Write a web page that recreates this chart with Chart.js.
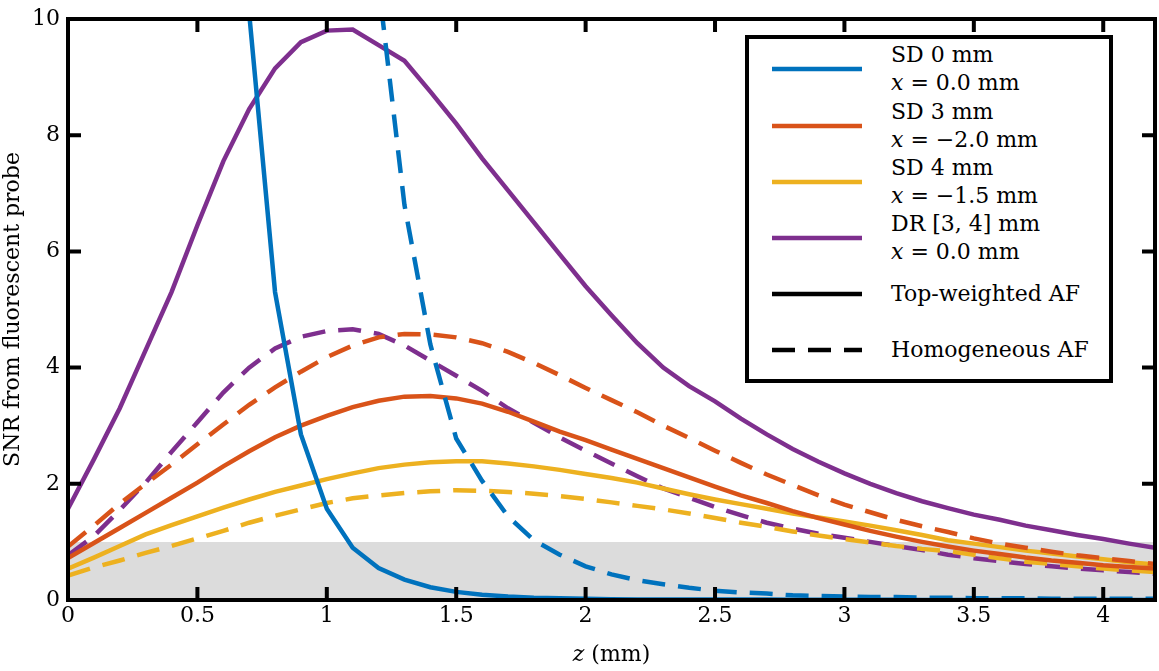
<!DOCTYPE html>
<html>
<head>
<meta charset="utf-8">
<script src="https://cdn.jsdelivr.net/npm/chart.js@4.4.1/dist/chart.umd.min.js"></script>
<style>
  body { margin: 0; background: #fff; }
  #wrap { position: relative; width: 1159px; height: 671px; }
  #legend-box { position: absolute; left: 745px; top: 35px; width: 368px; height: 348px;
    box-sizing: border-box; border: 4px solid #000; background: #fff; }
  .lg-line { position: absolute; left: 772px; }
  .lg-text { position: absolute; left: 891px; font-family: "DejaVu Serif"; font-size: 22px;
    line-height: 28px; color: #000; white-space: nowrap; }
</style>
</head>
<body>
<div id="wrap">
  <canvas id="chart" width="1159" height="671"></canvas>
  <div id="legend-box"></div>
</div>
<script>
// --- data ---
const zMm = [0, 0.1, 0.2, 0.3, 0.4, 0.5, 0.6, 0.7, 0.8, 0.9, 1.0, 1.1, 1.2, 1.3, 1.4, 1.5, 1.6, 1.7, 1.8, 1.9, 2.0,
  2.1, 2.2, 2.3, 2.4, 2.5, 2.6, 2.7, 2.8, 2.9, 3.0, 3.1, 3.2, 3.3, 3.4, 3.5, 3.6, 3.7, 3.8, 3.9, 4.0, 4.1, 4.2];

// SD 0 mm, x = 0.0 mm
const sd0Top = [null, null, null, null, null, null, 19, 10.1, 5.3, 2.85, 1.57, 0.9, 0.55, 0.35, 0.22, 0.14, 0.09, 0.06, 0.04, 0.03, 0.02,
  0.015, 0.01, 0.01, 0.01, 0.01, 0.01, 0.01, 0.005, 0.005, 0.005, 0.005, 0.005, 0, 0, 0, 0, 0, 0, 0, 0, 0, 0];
const sd0Hom = [null, null, null, null, null, null, null, null, null, null, null, 17, 10.6, 6.8, 4.4, 2.78, 2.05, 1.44, 1.03, 0.78, 0.58,
  0.44, 0.34, 0.27, 0.21, 0.16, 0.13, 0.11, 0.08, 0.07, 0.06, 0.05, 0.05, 0.04, 0.04, 0.03, 0.03, 0.03, 0.02, 0.02, 0.02, 0.02, 0.02];
// SD 3 mm, x = -2.0 mm
const sd3Top = [0.72, 0.98, 1.24, 1.5, 1.76, 2.02, 2.3, 2.56, 2.8, 3.0, 3.17, 3.32, 3.43, 3.5, 3.51, 3.47, 3.38, 3.24, 3.07, 2.9, 2.75,
  2.59, 2.43, 2.27, 2.11, 1.95, 1.8, 1.67, 1.53, 1.41, 1.3, 1.19, 1.09, 1.0, 0.92, 0.85, 0.79, 0.73, 0.68, 0.64, 0.6, 0.57, 0.54];
const sd3Hom = [0.92, 1.28, 1.66, 2.0, 2.33, 2.68, 3.02, 3.36, 3.66, 3.93, 4.18, 4.38, 4.52, 4.58, 4.57, 4.52, 4.42, 4.27, 4.08, 3.87, 3.65,
  3.44, 3.23, 3.0, 2.79, 2.57, 2.36, 2.16, 1.98, 1.8, 1.64, 1.51, 1.38, 1.27, 1.17, 1.06, 0.97, 0.9, 0.83, 0.77, 0.72, 0.67, 0.62];
// SD 4 mm, x = -1.5 mm
const sd4Top = [0.54, 0.73, 0.93, 1.13, 1.29, 1.44, 1.59, 1.73, 1.86, 1.97, 2.08, 2.18, 2.27, 2.33, 2.37, 2.39, 2.39, 2.35, 2.3, 2.24, 2.17,
  2.1, 2.02, 1.92, 1.82, 1.73, 1.65, 1.57, 1.49, 1.42, 1.35, 1.28, 1.2, 1.12, 1.03, 0.97, 0.91, 0.85, 0.8, 0.75, 0.7, 0.65, 0.61];
const sd4Hom = [0.42, 0.56, 0.68, 0.81, 0.93, 1.06, 1.19, 1.33, 1.45, 1.56, 1.67, 1.75, 1.8, 1.84, 1.87, 1.89, 1.88, 1.86, 1.83, 1.79, 1.74,
  1.68, 1.62, 1.56, 1.49, 1.41, 1.33, 1.26, 1.18, 1.11, 1.05, 0.99, 0.93, 0.88, 0.84, 0.78, 0.72, 0.66, 0.62, 0.58, 0.54, 0.51, 0.48];
// DR [3,4] mm, x = 0.0 mm
const drTop = [1.57, 2.42, 3.3, 4.3, 5.3, 6.45, 7.55, 8.45, 9.15, 9.6, 9.8, 9.82, 9.55, 9.28, 8.75, 8.2, 7.6, 7.05, 6.5, 5.95, 5.4,
  4.9, 4.42, 4.0, 3.68, 3.42, 3.12, 2.85, 2.6, 2.38, 2.18, 2.0, 1.84, 1.7, 1.58, 1.47, 1.38, 1.28, 1.2, 1.12, 1.05, 0.97, 0.9];
const drHom = [0.77, 1.1, 1.55, 2.02, 2.55, 3.06, 3.57, 4.0, 4.33, 4.53, 4.63, 4.66, 4.58, 4.38, 4.12, 3.86, 3.6, 3.3, 3.05, 2.8, 2.57,
  2.35, 2.13, 1.92, 1.76, 1.6, 1.46, 1.33, 1.23, 1.14, 1.07, 1.0, 0.93, 0.86, 0.78, 0.72, 0.67, 0.62, 0.58, 0.54, 0.51, 0.48, 0.45];

// shaded SNR < 1 band
const shadeZ = [0, 4.2];
const shadeLevel = [1, 1];

const xTicks = [0, 0.5, 1, 1.5, 2, 2.5, 3, 3.5, 4];
const yTicks = [0, 2, 4, 6, 8, 10];

const seriesNames = ['SD 0 mm', 'SD 3 mm', 'SD 4 mm', 'DR [3, 4] mm'];
const seriesOffsets = ['0.0', '\u22122.0', '\u22121.5', '0.0'];
const seriesColors = ['#0072BD', '#D95319', '#EDB120', '#7E2F8E'];
const topSeries = [sd0Top, sd3Top, sd4Top, drTop];
const homSeries = [sd0Hom, sd3Hom, sd4Hom, drHom];

const FONT = 'DejaVu Serif';
const DASH = [23, 13];
const LW = 4.5;

const pts = (ys) => zMm.map((z, i) => ({ x: z, y: ys[i] }));

const datasets = [];
seriesNames.forEach((name, i) => {
    datasets.push({ label: name + ' top', data: pts(topSeries[i]), borderColor: seriesColors[i],
        borderWidth: LW, pointRadius: 0, tension: 0, fill: false });
    datasets.push({ label: name + ' hom', data: pts(homSeries[i]), borderColor: seriesColors[i],
        borderWidth: LW, borderDash: DASH, pointRadius: 0, tension: 0, fill: false });
});
datasets.push({ label: 'shade', data: shadeZ.map((z, i) => ({ x: z, y: shadeLevel[i] })),
    borderWidth: 0, pointRadius: 0, backgroundColor: '#dcdcdc', fill: 'origin', order: 10 });

// frame with inward ticks on all four sides
const framePlugin = {
    id: 'frame',
    afterDatasetsDraw(chart) {
        const { ctx, chartArea: a, scales: { x, y } } = chart;
        ctx.save();
        ctx.strokeStyle = '#000';
        ctx.lineWidth = 4;
        ctx.beginPath();
        xTicks.forEach(v => {
            const p = x.getPixelForValue(v);
            ctx.moveTo(p, a.bottom); ctx.lineTo(p, a.bottom - 13);
            ctx.moveTo(p, a.top); ctx.lineTo(p, a.top + 13);
        });
        yTicks.forEach(v => {
            const p = y.getPixelForValue(v);
            ctx.moveTo(a.left, p); ctx.lineTo(a.left + 13, p);
            ctx.moveTo(a.right, p); ctx.lineTo(a.right - 13, p);
        });
        ctx.stroke();
        ctx.strokeRect(a.left, a.top, a.right - a.left, a.bottom - a.top);
        ctx.restore();
    }
};

// x title with italic z
const xTitlePlugin = {
    id: 'xTitle',
    afterDraw(chart) {
        const { ctx, chartArea: a } = chart;
        ctx.save();
        ctx.fillStyle = '#000';
        ctx.textBaseline = 'alphabetic';
        ctx.font = 'italic 22px "' + FONT + '"';
        const wz = ctx.measureText('z').width;
        ctx.font = '22px "' + FONT + '"';
        const wr = ctx.measureText(' (mm)').width;
        let x0 = (a.left + a.right) / 2 - (wz + wr) / 2;
        const y0 = a.bottom + 61;
        ctx.font = 'italic 22px "' + FONT + '"';
        ctx.fillText('z', x0, y0);
        ctx.font = '22px "' + FONT + '"';
        ctx.fillText(' (mm)', x0 + wz, y0);
        ctx.restore();
    }
};

new Chart(document.getElementById('chart'), {
    type: 'line',
    data: { datasets },
    options: {
        responsive: false,
        animation: false,
        layout: { padding: { left: 0, right: 4, top: 12, bottom: 0 } },
        plugins: { legend: { display: false }, tooltip: { enabled: false } },
        scales: {
            x: {
                type: 'linear', min: 0, max: 4.2,
                afterBuildTicks: s => { s.ticks = xTicks.map(v => ({ value: v })); },
                afterFit: s => { s.height = 71; },
                grid: { display: false, drawTicks: false },
                border: { display: false },
                ticks: { callback: v => String(v), color: '#000', padding: 5, maxRotation: 0, autoSkip: false,
                    font: { family: FONT, size: 22, lineHeight: 1 } }
            },
            y: {
                min: 0, max: 10,
                afterBuildTicks: s => { s.ticks = yTicks.map(v => ({ value: v })); },
                afterFit: s => { s.width = 68; },
                grid: { display: false, drawTicks: false },
                border: { display: false },
                ticks: { callback: v => String(v), color: '#000', padding: 8,
                    font: { family: FONT, size: 22, lineHeight: 1 } },
                title: { display: true, text: 'SNR from fluorescent probe', color: '#000', padding: 0,
                    font: { family: FONT, size: 22 } }
            }
        }
    },
    plugins: [framePlugin, xTitlePlugin]
});

// --- legend ---
const wrap = document.getElementById('wrap');
function addLine(y, color, dashed) {
    const ns = 'http://www.w3.org/2000/svg';
    const svg = document.createElementNS(ns, 'svg');
    svg.setAttribute('width', '90'); svg.setAttribute('height', '10');
    svg.setAttribute('class', 'lg-line');
    svg.style.top = (y - 5) + 'px';
    const ln = document.createElementNS(ns, 'line');
    ln.setAttribute('x1', 0); ln.setAttribute('x2', 90);
    ln.setAttribute('y1', 5); ln.setAttribute('y2', 5);
    ln.setAttribute('stroke', color); ln.setAttribute('stroke-width', LW);
    if (dashed) ln.setAttribute('stroke-dasharray', DASH.join(' '));
    svg.appendChild(ln);
    wrap.appendChild(svg);
}
function addText(y, html, lines) {
    const d = document.createElement('div');
    d.className = 'lg-text';
    d.style.top = (y - 14 * lines) + 'px';
    d.innerHTML = html;
    wrap.appendChild(d);
}
const legendY = [69, 126, 182, 238];
seriesNames.forEach((name, i) => {
    addLine(legendY[i], seriesColors[i], false);
    addText(legendY[i], name + '<br><i>x</i> = ' + seriesOffsets[i] + ' mm', 2);
});
addLine(294, '#000', false);
addText(294, 'Top-weighted AF', 1);
addLine(350, '#000', true);
addText(350, 'Homogeneous AF', 1);
</script>
</body>
</html>
